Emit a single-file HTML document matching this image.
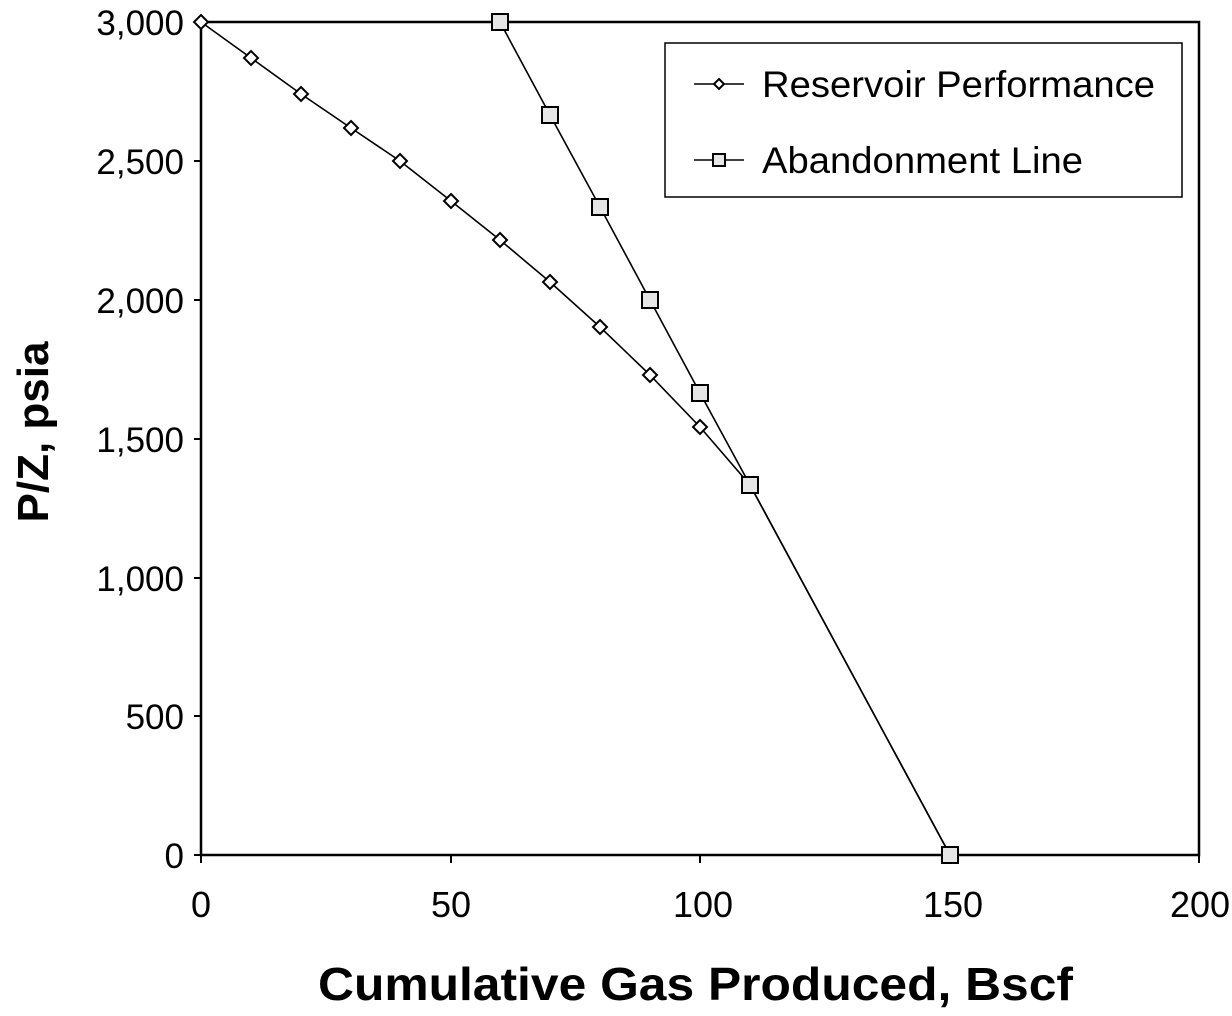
<!DOCTYPE html>
<html><head><style>body{margin:0;background:#fff}</style></head><body>
<svg width="1232" height="1011" xmlns="http://www.w3.org/2000/svg" font-family="Liberation Sans, Arial, sans-serif">
<rect x="201" y="22" width="998" height="833" fill="none" stroke="#000" stroke-width="2.5"/>
<g stroke="#000" stroke-width="2">
<line x1="194" y1="22" x2="201" y2="22"/><line x1="194" y1="161" x2="201" y2="161"/><line x1="194" y1="300" x2="201" y2="300"/><line x1="194" y1="439" x2="201" y2="439"/><line x1="194" y1="578" x2="201" y2="578"/><line x1="194" y1="716" x2="201" y2="716"/><line x1="194" y1="855" x2="201" y2="855"/>
<line x1="201" y1="855" x2="201" y2="863"/><line x1="451" y1="855" x2="451" y2="863"/><line x1="700" y1="855" x2="700" y2="863"/><line x1="950" y1="855" x2="950" y2="863"/><line x1="1199" y1="855" x2="1199" y2="863"/>
</g>
<g font-size="35" text-anchor="end">
<text x="184" y="35">3,000</text><text x="184" y="174">2,500</text><text x="184" y="313">2,000</text><text x="184" y="452">1,500</text><text x="184" y="591">1,000</text><text x="184" y="729">500</text><text x="184" y="868">0</text>
</g>
<g font-size="36" text-anchor="middle">
<text x="201" y="917">0</text><text x="451" y="917">50</text><text x="703" y="917">100</text><text x="953" y="917">150</text><text x="1200" y="917">200</text>
</g>
<text x="318" y="1000" font-size="46" font-weight="bold" textLength="755" lengthAdjust="spacingAndGlyphs">Cumulative Gas Produced, Bscf</text>
<text transform="translate(48,432) rotate(-90)" font-size="44" font-weight="bold" text-anchor="middle">P/Z, psia</text>
<polyline fill="none" stroke="#000" stroke-width="1.6" points="201,22 251,58 301,94 351,128 400,161 451,201 500,240 550,282 600,327 650,375 700,427 750,485 950,855"/>
<polyline fill="none" stroke="#000" stroke-width="1.6" points="500,22 550,115 600,207 650,300 700,393 750,485 950,855"/>
<g fill="#fff" stroke="#000" stroke-width="2">
<path d="M201,15l7,7l-7,7l-7,-7z"/><path d="M251,51l7,7l-7,7l-7,-7z"/><path d="M301,87l7,7l-7,7l-7,-7z"/><path d="M351,121l7,7l-7,7l-7,-7z"/><path d="M400,154l7,7l-7,7l-7,-7z"/><path d="M451,194l7,7l-7,7l-7,-7z"/><path d="M500,233l7,7l-7,7l-7,-7z"/><path d="M550,275l7,7l-7,7l-7,-7z"/><path d="M600,320l7,7l-7,7l-7,-7z"/><path d="M650,368l7,7l-7,7l-7,-7z"/><path d="M700,420l7,7l-7,7l-7,-7z"/>
</g>
<g fill="#e6e6e6" stroke="#000" stroke-width="2">
<rect x="492" y="14" width="16" height="16"/><rect x="542" y="107" width="16" height="16"/><rect x="592" y="199" width="16" height="16"/><rect x="642" y="292" width="16" height="16"/><rect x="692" y="385" width="16" height="16"/><rect x="742" y="477" width="16" height="16"/><rect x="942" y="847" width="16" height="16"/>
</g>
<rect x="665" y="43" width="517" height="154" fill="#fff" stroke="#000" stroke-width="1.5"/>
<line x1="694" y1="84" x2="744" y2="84" stroke="#000" stroke-width="1.6"/>
<path d="M719,79l5,5l-5,5l-5,-5z" fill="#fff" stroke="#000" stroke-width="2"/>
<line x1="694" y1="160" x2="744" y2="160" stroke="#000" stroke-width="1.6"/>
<rect x="713" y="154" width="12" height="12" fill="#e6e6e6" stroke="#000" stroke-width="2"/>
<text x="762" y="97" font-size="37" textLength="393" lengthAdjust="spacingAndGlyphs">Reservoir Performance</text>
<text x="762" y="173" font-size="37" textLength="321" lengthAdjust="spacingAndGlyphs">Abandonment Line</text>
</svg>
</body></html>
